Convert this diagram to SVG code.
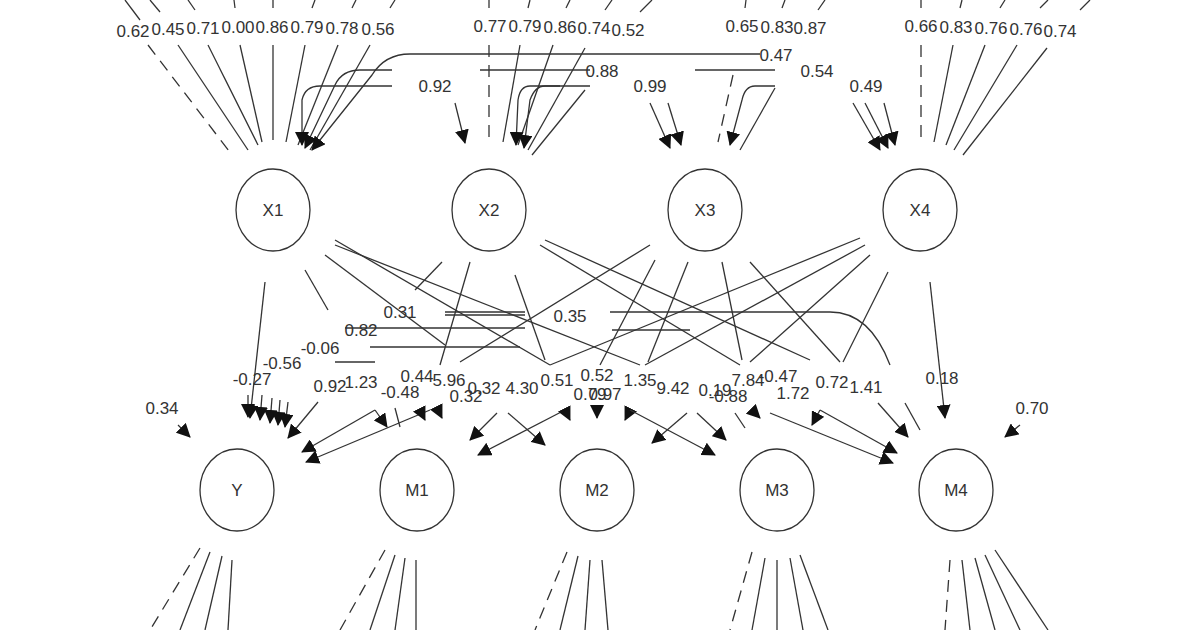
<svg xmlns="http://www.w3.org/2000/svg" width="1200" height="630" viewBox="0 0 1200 630">
<style>
text{font-family:"Liberation Sans",Arial,sans-serif;font-size:17px;fill:#333;text-anchor:middle}
.n{fill:#fff;stroke:#333;stroke-width:1.3}
.c line,.c path{stroke:#333;stroke-width:1.3;fill:none}
.d{stroke-dasharray:12 8}
.a{marker-end:url(#ah)}
</style>
<defs><marker id="ah" markerWidth="14" markerHeight="14" refX="13" refY="7" orient="auto" markerUnits="userSpaceOnUse"><path d="M0,0 L14,7 L0,14 z" fill="#111"/></marker></defs>
<rect width="1200" height="630" fill="#fff"/>
<g class="c">
<line class="d" x1="148" y1="45" x2="232" y2="155"/><line x1="178" y1="45" x2="248" y2="150"/><line x1="208" y1="45" x2="258" y2="145"/><line x1="240" y1="45" x2="262" y2="142"/><line x1="273" y1="45" x2="273" y2="140"/><line x1="305" y1="45" x2="286" y2="142"/><line x1="338" y1="45" x2="298" y2="145"/><line x1="370" y1="45" x2="310" y2="150"/>
<line x1="140" y1="20" x2="125" y2="0"/><line x1="160" y1="12" x2="150" y2="0"/><line x1="195" y1="10" x2="188" y2="0"/><line x1="235" y1="8" x2="234" y2="0"/><line x1="273" y1="8" x2="273" y2="0"/><line x1="312" y1="8" x2="315" y2="0"/><line x1="352" y1="8" x2="356" y2="0"/><line x1="390" y1="8" x2="395" y2="0"/>
<line class="d" x1="489" y1="45" x2="489" y2="140"/><line x1="520" y1="45" x2="503" y2="142"/><line x1="553" y1="45" x2="518" y2="145"/><line x1="585" y1="48" x2="528" y2="150"/><line x1="585" y1="90" x2="532" y2="155"/>
<line x1="489" y1="8" x2="489" y2="0"/><line x1="528" y1="8" x2="530" y2="0"/><line x1="566" y1="8" x2="570" y2="0"/><line x1="605" y1="10" x2="612" y2="0"/><line x1="640" y1="12" x2="652" y2="0"/>
<line class="d" x1="733" y1="75" x2="718" y2="142"/><line x1="775" y1="88" x2="740" y2="150"/>
<line x1="745" y1="8" x2="746" y2="0"/><line x1="782" y1="8" x2="785" y2="0"/><line x1="818" y1="10" x2="825" y2="0"/>
<line class="d" x1="921" y1="45" x2="921" y2="140"/><line x1="953" y1="45" x2="934" y2="142"/><line x1="985" y1="45" x2="946" y2="145"/><line x1="1017" y1="45" x2="954" y2="150"/><line x1="1047" y1="48" x2="963" y2="155"/>
<line x1="921" y1="8" x2="921" y2="0"/><line x1="960" y1="8" x2="962" y2="0"/><line x1="1000" y1="8" x2="1005" y2="0"/><line x1="1040" y1="8" x2="1048" y2="0"/><line x1="1080" y1="10" x2="1090" y2="0"/>
<path class="a" d="M760,54 L410,54 Q385,54 372,75 L312,150"/>
<path class="a" d="M392,70 L360,70 Q342,70 335,85 L305,148"/>
<path class="a" d="M392,86 L320,86 Q305,86 302,100 L302,145"/>
<path d="M480,70 L590,70"/>
<path class="a" d="M590,86 L530,86 Q520,86 518,100 L516,145"/>
<path class="a" d="M560,86 L545,86 Q535,86 530,100 L524,148"/>
<path d="M695,70 L775,70"/>
<path class="a" d="M775,86 L755,86 Q745,86 742,100 L730,145"/>
<line class="a" x1="455" y1="103" x2="465" y2="143"/>
<line class="a" x1="650" y1="103" x2="670" y2="148"/><line class="a" x1="668" y1="103" x2="681" y2="145"/>
<line class="a" x1="853" y1="103" x2="880" y2="150"/><line class="a" x1="865" y1="103" x2="888" y2="148"/><line class="a" x1="884" y1="103" x2="895" y2="145"/>
<line class="a" x1="265" y1="282" x2="250" y2="418"/>
<line x1="305" y1="270" x2="328" y2="310"/>
<line x1="325" y1="255" x2="445" y2="345"/>
<line x1="335" y1="240" x2="550" y2="365"/>
<line x1="335" y1="245" x2="640" y2="365"/>
<line x1="442" y1="262" x2="415" y2="290"/>
<line x1="470" y1="262" x2="440" y2="365"/>
<line x1="515" y1="275" x2="545" y2="360"/>
<line x1="540" y1="245" x2="740" y2="365"/>
<line x1="545" y1="240" x2="810" y2="360"/>
<line x1="650" y1="245" x2="460" y2="362"/>
<line x1="655" y1="260" x2="600" y2="365"/>
<line x1="688" y1="262" x2="648" y2="362"/>
<line x1="722" y1="262" x2="742" y2="360"/>
<line x1="750" y1="262" x2="840" y2="362"/>
<line x1="860" y1="238" x2="550" y2="365"/>
<line x1="865" y1="245" x2="645" y2="365"/>
<line x1="870" y1="255" x2="750" y2="362"/>
<line x1="888" y1="272" x2="843" y2="362"/>
<line class="a" x1="930" y1="282" x2="945" y2="418"/>
<path d="M445,312 L525,312"/><path d="M445,315 L525,315"/>
<path d="M610,312 L830,312 Q870,312 890,365"/>
<path d="M345,328 L525,328"/><path d="M612,330 L690,330"/>
<path d="M370,347 L520,347"/>
<line x1="335" y1="362" x2="375" y2="362"/>
<line class="a" x1="178" y1="425" x2="190" y2="437"/>
<line class="a" x1="248" y1="395" x2="248" y2="417"/><line class="a" x1="262" y1="395" x2="260" y2="420"/><line class="a" x1="272" y1="398" x2="270" y2="423"/><line class="a" x1="280" y1="400" x2="278" y2="425"/><line class="a" x1="288" y1="402" x2="285" y2="427"/>
<line class="a" x1="318" y1="402" x2="288" y2="438"/>
<line class="a" x1="375" y1="410" x2="302" y2="452"/>
<line class="a" x1="430" y1="410" x2="306" y2="462"/>
<line class="a" x1="375" y1="410" x2="387" y2="427"/>
<line x1="395" y1="408" x2="400" y2="427"/>
<line class="a" x1="420" y1="410" x2="425" y2="420"/>
<line class="a" x1="438" y1="410" x2="442" y2="418"/>
<line class="a" x1="497" y1="413" x2="470" y2="440"/>
<line class="a" x1="508" y1="413" x2="545" y2="445"/>
<line class="a" x1="565" y1="410" x2="478" y2="455"/>
<line class="a" x1="565" y1="410" x2="570" y2="420"/>
<line class="a" x1="597" y1="405" x2="597" y2="418"/>
<line class="a" x1="630" y1="410" x2="625" y2="420"/>
<line class="a" x1="630" y1="410" x2="715" y2="455"/>
<line class="a" x1="687" y1="413" x2="652" y2="443"/>
<line class="a" x1="697" y1="413" x2="726" y2="440"/>
<line x1="735" y1="413" x2="745" y2="428"/>
<line class="a" x1="755" y1="413" x2="760" y2="418"/>
<line class="a" x1="770" y1="413" x2="893" y2="463"/>
<line class="a" x1="820" y1="410" x2="812" y2="425"/>
<line class="a" x1="820" y1="410" x2="897" y2="453"/>
<line class="a" x1="878" y1="403" x2="908" y2="437"/>
<line x1="905" y1="403" x2="920" y2="430"/>
<line class="a" x1="1020" y1="425" x2="1005" y2="437"/>
<line class="d" x1="200" y1="548" x2="150" y2="630"/><line x1="210" y1="552" x2="180" y2="630"/><line x1="222" y1="556" x2="205" y2="630"/><line x1="232" y1="560" x2="228" y2="630"/>
<line class="d" x1="385" y1="550" x2="340" y2="630"/><line x1="395" y1="555" x2="370" y2="630"/><line x1="405" y1="558" x2="395" y2="630"/><line x1="416" y1="560" x2="416" y2="630"/>
<line class="d" x1="567" y1="552" x2="535" y2="630"/><line x1="578" y1="556" x2="560" y2="630"/><line x1="590" y1="560" x2="585" y2="630"/><line x1="602" y1="560" x2="608" y2="630"/>
<line class="d" x1="752" y1="552" x2="730" y2="630"/><line x1="765" y1="558" x2="752" y2="630"/><line x1="777" y1="560" x2="777" y2="630"/><line x1="790" y1="558" x2="803" y2="630"/><line x1="800" y1="555" x2="828" y2="630"/>
<line class="d" x1="950" y1="560" x2="945" y2="630"/><line x1="962" y1="560" x2="970" y2="630"/><line x1="975" y1="558" x2="995" y2="630"/><line x1="985" y1="555" x2="1020" y2="630"/><line x1="995" y1="550" x2="1048" y2="630"/>
</g>
<g id="X1"><ellipse class="n" cx="273" cy="210" rx="37" ry="41"/><text x="273" y="216">X1</text></g>
<g id="X2"><ellipse class="n" cx="489" cy="210" rx="37" ry="41"/><text x="489" y="216">X2</text></g>
<g id="X3"><ellipse class="n" cx="705" cy="210" rx="37" ry="41"/><text x="705" y="216">X3</text></g>
<g id="X4"><ellipse class="n" cx="920" cy="210" rx="37" ry="41"/><text x="920" y="216">X4</text></g>
<g id="Y"><ellipse class="n" cx="237" cy="490" rx="37" ry="41"/><text x="237" y="496">Y</text></g>
<g id="M1"><ellipse class="n" cx="417" cy="490" rx="37" ry="41"/><text x="417" y="496">M1</text></g>
<g id="M2"><ellipse class="n" cx="597" cy="490" rx="37" ry="41"/><text x="597" y="496">M2</text></g>
<g id="M3"><ellipse class="n" cx="777" cy="490" rx="37" ry="41"/><text x="777" y="496">M3</text></g>
<g id="M4"><ellipse class="n" cx="956" cy="490" rx="37" ry="41"/><text x="956" y="496">M4</text></g>
<g id="labels">
<text x="133" y="37">0.62</text><text x="168" y="35">0.45</text><text x="203" y="34">0.71</text><text x="238" y="33">0.00</text><text x="272" y="33">0.86</text><text x="307" y="33">0.79</text><text x="342" y="34">0.78</text><text x="378" y="35">0.56</text>
<text x="490" y="32">0.77</text><text x="525" y="32">0.79</text><text x="560" y="33">0.86</text><text x="594" y="34">0.74</text><text x="628" y="36">0.52</text>
<text x="742" y="32">0.65</text><text x="777" y="33">0.83</text><text x="810" y="34">0.87</text>
<text x="921" y="32">0.66</text><text x="956" y="33">0.83</text><text x="991" y="34">0.76</text><text x="1026" y="35">0.76</text><text x="1060" y="37">0.74</text>
<text x="435" y="92">0.92</text><text x="602" y="77">0.88</text><text x="776" y="61">0.47</text><text x="817" y="77">0.54</text><text x="650" y="92">0.99</text><text x="866" y="92">0.49</text>
<text x="400" y="318">0.31</text><text x="570" y="322">0.35</text><text x="361" y="336">0.82</text><text x="320" y="354">-0.06</text><text x="282" y="369">-0.56</text><text x="252" y="385">-0.27</text>
<text x="330" y="392">0.92</text><text x="361" y="388">1.23</text><text x="400" y="398">-0.48</text><text x="417" y="382">0.44</text><text x="449" y="386">5.96</text><text x="466" y="402">0.32</text><text x="484" y="394">0.32</text><text x="522" y="394">4.30</text><text x="557" y="386">0.51</text><text x="597" y="381">0.52</text><text x="590" y="400">0.79</text><text x="605" y="400">0.97</text>
<text x="640" y="386">1.35</text><text x="673" y="394">9.42</text><text x="715" y="396">0.19</text><text x="728" y="402">-0.88</text><text x="748" y="386">7.84</text><text x="778" y="382">-0.47</text><text x="793" y="399">1.72</text><text x="832" y="388">0.72</text><text x="866" y="393">1.41</text><text x="942" y="384">0.18</text><text x="1032" y="414">0.70</text><text x="162" y="414">0.34</text>
</g>
</svg>
